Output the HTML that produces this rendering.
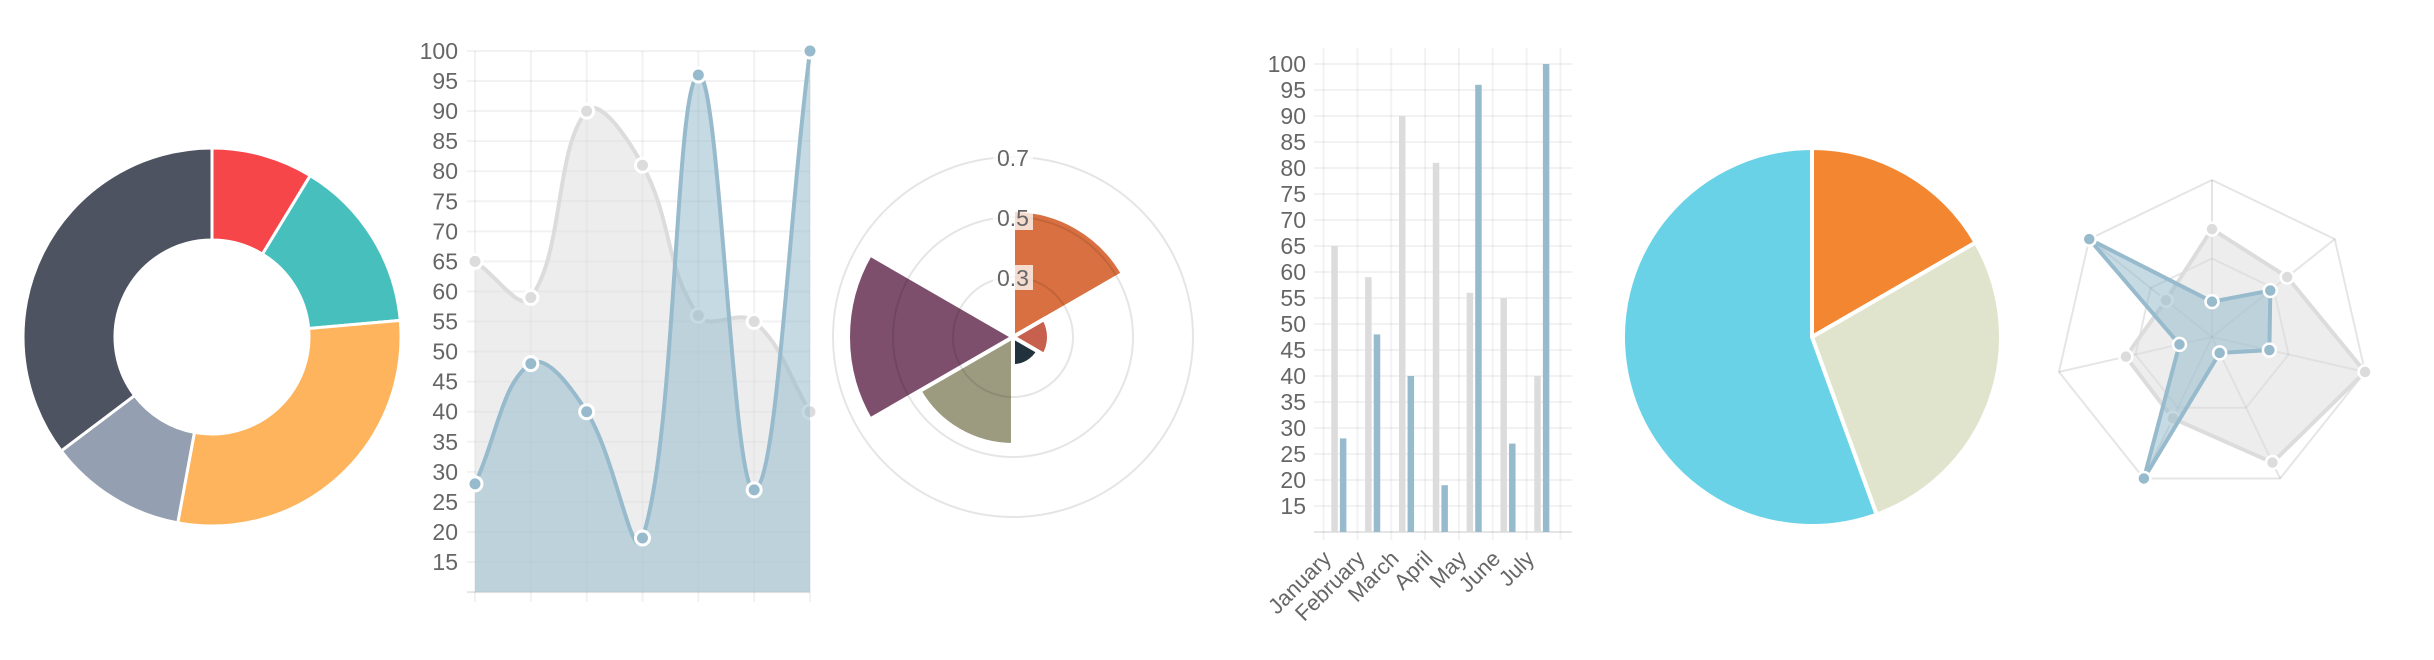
<!DOCTYPE html>
<html><head><meta charset="utf-8"><style>
html,body{margin:0;padding:0;background:#fff;}
svg{display:block;font-family:"Liberation Sans",sans-serif;}
</style></head><body>
<svg id="s" width="2434" height="660" viewBox="0 0 2434 660" xmlns="http://www.w3.org/2000/svg">
<g id="donut"></g>
<g id="line"></g>
<g id="polar"></g>
<g id="bar"></g>
<g id="pie"></g>
<g id="radar"></g>
</svg>
<script>
const donutValues=[8.7,14.9,29.3,11.8,35.3];
const donutColors=["#F7464A","#46BFBD","#FDB45C","#949FB1","#4D5360"];
const lineLabels=["January","February","March","April","May","June","July"];
const seriesA=[65,59,90,81,56,55,40];
const seriesB=[28,48,40,19,96,27,100];
const yTicks=[15,20,25,30,35,40,45,50,55,60,65,70,75,80,85,90,95,100];
const polarValues=[0.523,0.22,0.197,0.46,0.65,0.1];
const polarColors=["#D97041","#C7604C","#21323D","#9D9B7F","#7D4F6D","#584A5E"];
const polarTicks=[0.3,0.5,0.7];
const pieValues=[30,50,100];
const pieColors=["#F38630","#E0E4CC","#69D2E7"];
const radarTicks=[50,90];

const NS="http://www.w3.org/2000/svg";
function mk(parent,tag,attrs,name){const e=document.createElementNS(NS,tag);for(const k in attrs)e.setAttribute(k,attrs[k]);


parent.appendChild(e);return e;}
function pt(cx,cy,r,deg){const a=(deg-90)*Math.PI/180;return [cx+r*Math.cos(a),cy+r*Math.sin(a)];}
function sector(cx,cy,r0,r1,a0,a1){const l=(a1-a0)>180?1:0;const p1=pt(cx,cy,r1,a0),p2=pt(cx,cy,r1,a1);
if(r0<=0)return `M${cx},${cy}L${p1}A${r1},${r1} 0 ${l} 1 ${p2}Z`;
const p3=pt(cx,cy,r0,a1),p4=pt(cx,cy,r0,a0);
return `M${p1}A${r1},${r1} 0 ${l} 1 ${p2}L${p3}A${r0},${r0} 0 ${l} 0 ${p4}Z`;}

// Doughnut
(function(){const g=document.getElementById('donut');const tot=donutValues.reduce((a,b)=>a+b,0);let a=0;
donutValues.forEach((v,i)=>{const s=v/tot*360;mk(g,'path',{d:sector(212,337,97,189,a,a+s),fill:donutColors[i],stroke:'#fff','stroke-width':3},'donut-segment-'+(i+1));a+=s;});})();

// Line chart
(function(){const g=document.getElementById('line');const L=475,R=810,n=lineLabels.length;
const y=v=>51+(100-v)*30.06/5;const x=i=>L+i*(R-L)/(n-1);
yTicks.forEach(t=>{mk(g,'line',{x1:467,x2:R,y1:y(t),y2:y(t),stroke:'rgba(0,0,0,0.05)','stroke-width':2},'y-gridline');
const tx=mk(g,'text',{x:458,y:y(t)+8,'text-anchor':'end','font-size':23,fill:'#666'},'y-tick-label');tx.textContent=t;});
for(let i=0;i<n;i++)mk(g,'line',{x1:x(i),x2:x(i),y1:51,y2:602,stroke:'rgba(0,0,0,0.05)','stroke-width':2},'x-gridline');
mk(g,'line',{x1:467,x2:R,y1:y(10),y2:y(10),stroke:'rgba(0,0,0,0.1)','stroke-width':2},'x-axis');
function curve(vals){const P=vals.map((v,i)=>[x(i),y(v)]);let d=`M${P[0]}`;const t=0.4;const cps=P.map((p,i)=>{
const pr=P[i-1]||p,nx=P[i+1]||p;const d01=Math.hypot(p[0]-pr[0],p[1]-pr[1]),d12=Math.hypot(nx[0]-p[0],nx[1]-p[1]);
const s=d01+d12||1;const fa=t*d01/s,fb=t*d12/s;const clamp=v=>Math.max(51,Math.min(592,v));
return {i:[p[0]-fa*(nx[0]-pr[0]),clamp(p[1]-fa*(nx[1]-pr[1]))],o:[p[0]+fb*(nx[0]-pr[0]),clamp(p[1]+fb*(nx[1]-pr[1]))]};});
for(let i=1;i<P.length;i++)d+=`C${cps[i-1].o} ${cps[i].i} ${P[i]}`;return {d,P};}
[[seriesA,'rgba(220,220,220,0.5)','#dcdcdc','series-a'],[seriesB,'rgba(151,187,205,0.55)','#97bbcd','series-b']].forEach(([vals,fill,stroke,nm])=>{
const c=curve(vals);mk(g,'path',{d:c.d+`L${x(n-1)},${y(10)}L${x(0)},${y(10)}Z`,fill:fill},nm+'-area');
mk(g,'path',{d:c.d,fill:'none',stroke:stroke,'stroke-width':4},nm+'-line');
c.P.forEach(p=>mk(g,'circle',{cx:p[0],cy:p[1],r:7,fill:stroke,stroke:'#fff','stroke-width':3},nm+'-point'));});})();

// Polar area
(function(){const g=document.getElementById('polar');const cx=1013,cy=337;const r=v=>Math.max(0,(v-0.1)*300);const n=polarValues.length;
polarValues.forEach((v,i)=>{if(r(v)>0)mk(g,'path',{d:sector(cx,cy,0,r(v),i*360/n,(i+1)*360/n),fill:polarColors[i],stroke:'#fff','stroke-width':4},'polar-segment-'+(i+1));});
polarTicks.forEach(t=>{mk(g,'circle',{cx:cx,cy:cy,r:r(t),fill:'none',stroke:'rgba(0,0,0,0.1)','stroke-width':2},'polar-ring');});
polarTicks.forEach(t=>{mk(g,'rect',{x:cx-20,y:cy-r(t)-12,width:40,height:25,fill:'rgba(255,255,255,0.75)'},'polar-label-backdrop');
const tx=mk(g,'text',{x:cx,y:cy-r(t)+9,'text-anchor':'middle','font-size':23,fill:'#666'},'polar-tick-label');tx.textContent=t;});})();

// Bar chart
(function(){const g=document.getElementById('bar');const L=1323.6,W=33.83,n=lineLabels.length;const y=v=>64+(100-v)*26/5;
yTicks.forEach(t=>{mk(g,'line',{x1:1314,x2:1572,y1:y(t),y2:y(t),stroke:'rgba(0,0,0,0.05)','stroke-width':2},'y-gridline');
const tx=mk(g,'text',{x:1306,y:y(t)+8,'text-anchor':'end','font-size':23,fill:'#666'},'y-tick-label');tx.textContent=t;});
for(let i=0;i<=n;i++)mk(g,'line',{x1:L+i*W,x2:L+i*W,y1:48,y2:540,stroke:'rgba(0,0,0,0.05)','stroke-width':2},'x-gridline');
mk(g,'line',{x1:1314,x2:1572,y1:y(10),y2:y(10),stroke:'rgba(0,0,0,0.1)','stroke-width':2},'x-axis');
lineLabels.forEach((lb,i)=>{mk(g,'rect',{x:L+i*W+7.7,y:y(seriesA[i]),width:6.5,height:y(10)-y(seriesA[i]),fill:'#dcdcdc'},'bar-a-'+lb.toLowerCase());
mk(g,'rect',{x:L+i*W+16.3,y:y(seriesB[i]),width:6.5,height:y(10)-y(seriesB[i]),fill:'#97bbcd'},'bar-b-'+lb.toLowerCase());
const cxl=L+(i+0.5)*W-8,cyl=560;const tx=mk(g,'text',{x:cxl,y:cyl,'text-anchor':'end','font-size':22,fill:'#666',transform:`rotate(-45 ${cxl} ${cyl})`},'x-tick-label');tx.textContent=lb;});})();

// Pie
(function(){const g=document.getElementById('pie');const tot=pieValues.reduce((a,b)=>a+b,0);let a=0;
pieValues.forEach((v,i)=>{const s=v/tot*360;mk(g,'path',{d:sector(1812,337,0,189,a,a+s),fill:pieColors[i],stroke:'#fff','stroke-width':4},'pie-slice-'+(i+1));a+=s;});})();

// Radar
(function(){const g=document.getElementById('radar');const cx=2212,cy=337,n=7,R=157;const r=v=>Math.max(0,(Math.min(v,90)-10)/80*R);
const ang=i=>i*360/n;
radarTicks.forEach(t=>{mk(g,'polygon',{points:Array.from({length:n},(_,i)=>pt(cx,cy,r(t),ang(i)).join(',')).join(' '),fill:'none',stroke:'rgba(0,0,0,0.1)','stroke-width':2},'radar-ring');});
for(let i=0;i<n;i++){const p=pt(cx,cy,R,ang(i));mk(g,'line',{x1:cx,y1:cy,x2:p[0],y2:p[1],stroke:'rgba(0,0,0,0.1)','stroke-width':2},'radar-angle-line');}
[[seriesA,'rgba(220,220,220,0.5)','#dcdcdc','radar-series-a'],[seriesB,'rgba(151,187,205,0.55)','#97bbcd','radar-series-b']].forEach(([vals,fill,stroke,nm])=>{
const P=vals.map((v,i)=>pt(cx,cy,r(v),ang(i)));mk(g,'polygon',{points:P.map(p=>p.join(',')).join(' '),fill:fill,stroke:stroke,'stroke-width':4},nm+'-area');
P.forEach(p=>mk(g,'circle',{cx:p[0],cy:p[1],r:6.5,fill:stroke,stroke:'#fff','stroke-width':2.5},nm+'-point'));});})();
</script>
</body></html>
